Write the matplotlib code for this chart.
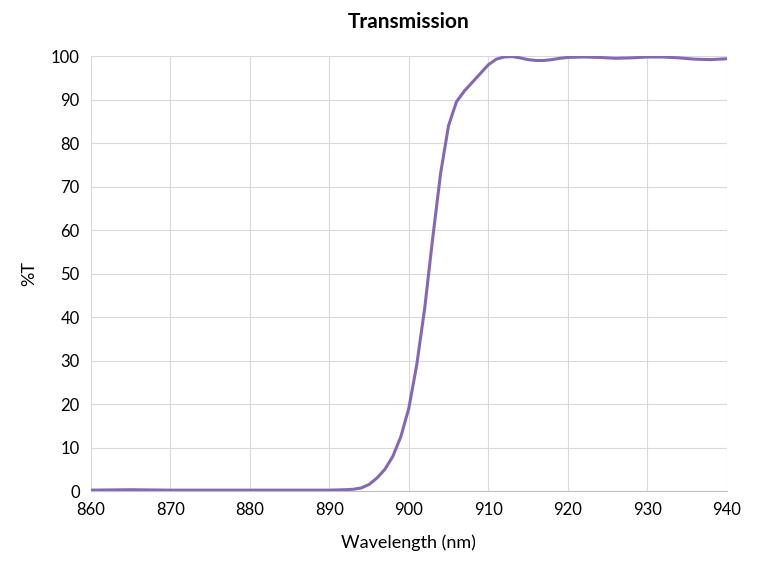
import matplotlib
matplotlib.use("Agg")
import matplotlib.pyplot as plt

wavelength = [860, 865, 870, 875, 880, 885, 890, 892, 893, 894, 895, 896, 897, 898, 899, 900, 901, 902, 903, 904, 905, 906, 907, 908, 909, 910, 911, 912, 913, 914, 915, 916, 917, 918, 919, 920, 922, 924, 926, 928, 930, 932, 934, 936, 938, 940]
transmission = [0.2, 0.3, 0.2, 0.2, 0.2, 0.2, 0.2, 0.3, 0.4, 0.7, 1.5, 3, 5, 8, 12.5, 19, 29, 42, 58, 73, 84, 89.5, 92, 94, 96, 98, 99.3, 99.8, 99.9, 99.6, 99.2, 99.0, 99.0, 99.2, 99.5, 99.7, 99.8, 99.7, 99.5, 99.6, 99.8, 99.8, 99.6, 99.3, 99.2, 99.4]

plt.rcParams['font.family'] = ['Lato', 'DejaVu Sans']
fig = plt.figure(figsize=(7.57, 5.67), dpi=100)
ax = fig.add_axes([0.120, 0.134, 0.840, 0.767])
ax.plot(wavelength, transmission, color='#8468b4', lw=2.2)
ax.set_xlim(860, 940)
ax.set_ylim(0, 100)
ax.set_xticks(range(860, 941, 10))
ax.set_yticks(range(0, 101, 10))
ax.grid(True, color='#d9d9d9', lw=0.8)
for s in ['top', 'right', 'left']:
    ax.spines[s].set_visible(False)
ax.spines['bottom'].set_color('#bfbfbf')
ax.tick_params(length=0, labelsize=12, pad=8)
ax.set_xlabel('Wavelength (nm)', fontsize=13, labelpad=12)
ax.set_ylabel('%T', fontsize=13, labelpad=10)
ax.set_title('Transmission', fontsize=15, fontweight='bold', pad=20)
fig.savefig('out.png', dpi=100)
